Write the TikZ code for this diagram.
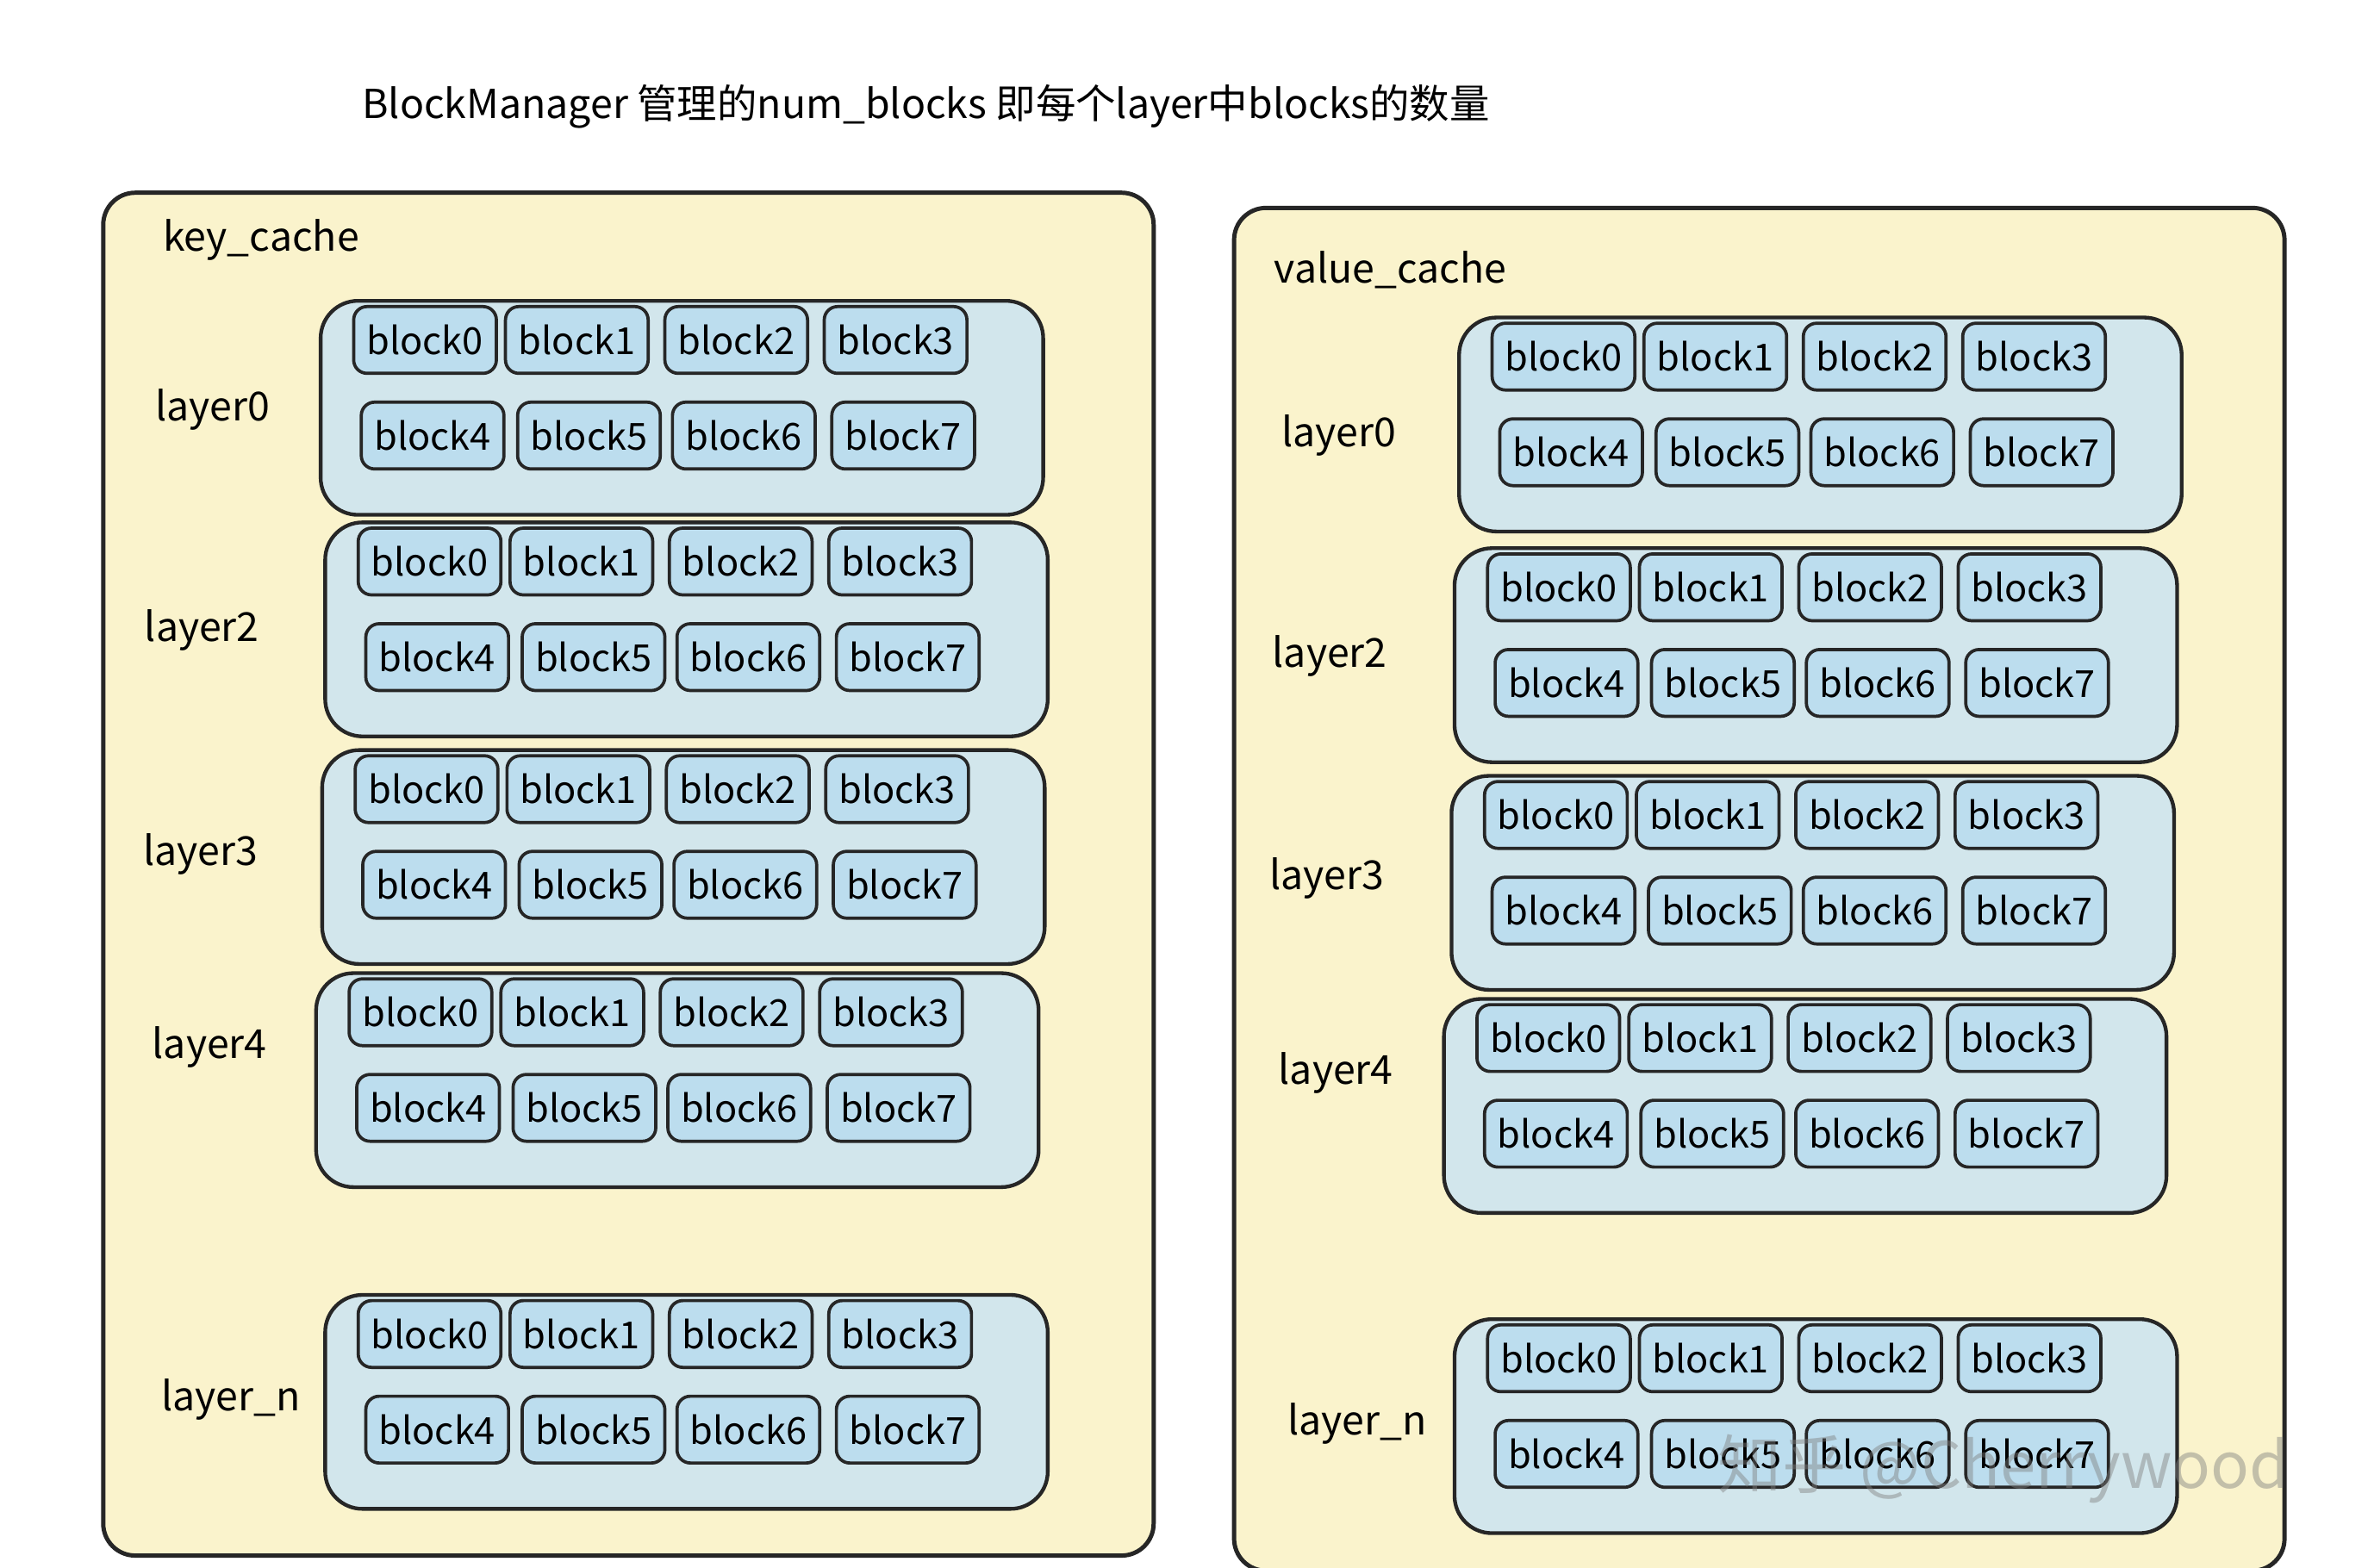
\documentclass[tikz,border=0pt]{standalone}
\usepackage{fontspec}
\setmainfont{Noto Sans CJK SC}
\definecolor{outerc}{HTML}{FAF3CC}
\definecolor{layerc}{HTML}{D2E6EC}
\definecolor{blkc}{HTML}{BCDDEE}
\begin{document}
\begin{tikzpicture}[x=0.02cm,y=-0.02cm,
  outer/.style={draw=black!85,line width=1.6pt,rounded corners=12pt,fill=outerc},
  layer/.style={draw=black!85,line width=1.4pt,rounded corners=14pt,fill=layerc,anchor=north west,minimum width=476*0.02cm,minimum height=141*0.02cm,inner sep=0},
  blk/.style={draw=black!85,line width=1.2pt,rounded corners=5pt,fill=blkc,minimum width=94*0.02cm,minimum height=44*0.02cm,inner sep=0,font=\fontsize{14}{17}\selectfont},
  lbl/.style={font=\fontsize{15}{18}\selectfont}]
\useasboundingbox (0,0) rectangle (1560,1033);
\fill[white] (0,0) rectangle (1560,1033);
\node[font=\fontsize{15}{18}\selectfont] (title) at (610,70) {BlockManager 管理的num\_blocks 即每个layer中blocks的数量};
\draw[outer] (68,127) rectangle (760,1025);
\draw[outer] (813,137) rectangle (1505,1035);
\node[lbl] (kc) at (172,158) {key\_cache};
\node[lbl] (vc) at (916,178) {value\_cache};
\foreach \n/\lx/\ly/\bx/\by/\t in {
  k0/140/270/210/197/layer0, k2/133/415/213/343/layer2, k3/132/563/211/493/layer3,
  k4/138/690/207/640/layer4, kn/152/922/213/852/layer\_n,
  v0/882/287/960/208/layer0, v2/876/432/957/360/layer2, v3/874/579/955/510/layer3,
  v4/880/707/950/657/layer4, vn/894/938/957/868/layer\_n}{
  \node[lbl] (lab\n) at (\lx,\ly) {\t};
  \node[layer] (box\n) at (\bx,\by) {};
  \foreach \i/\ox in {0/70,1/170,2/275,3/380}{
    \node[blk] (b\n\i) at (\bx+\ox,\by+27) {block\i};}
  \foreach \i/\ox in {4/75,5/178,6/280,7/385}{
    \node[blk] (b\n\i) at (\bx+\ox,\by+90) {block\i};}
}
\node[font=\fontsize{24}{28}\selectfont,text=gray,opacity=0.45] (wm) at (1320,968) {知乎 @Cherrywood};
\end{tikzpicture}
\end{document}
